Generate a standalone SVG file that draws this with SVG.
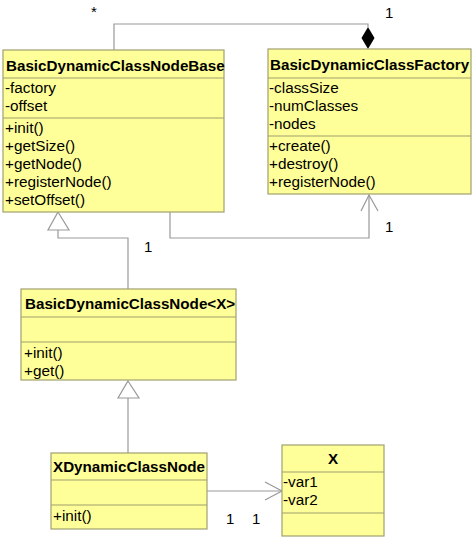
<svg xmlns="http://www.w3.org/2000/svg" width="474" height="539" viewBox="0 0 474 539">
<style>
.box{fill:#ffff99;stroke:#a0a070;stroke-width:1.2}
.div{stroke:#a0a070;stroke-width:1.2}
.t{font-family:"Liberation Sans",Arial,sans-serif;font-size:15.2px;font-weight:bold;fill:#000}
.m{font-family:"Liberation Sans",Arial,sans-serif;font-size:15.3px;fill:#000}
.c{fill:none;stroke:#999;stroke-width:1.2}
.lbl{font-family:"Liberation Sans",Arial,sans-serif;font-size:15px;fill:#000}
</style>
<rect width="474" height="539" fill="#fff"/>
<g id="connectors">
<polyline class="c" points="114,50 114,24 368,24 368,27"/>
<polygon points="368,27 374.5,38 368,49 361.5,38" fill="#000"/>
<text class="lbl" x="91" y="17">*</text>
<text class="lbl" x="385" y="18">1</text>
<polyline class="c" points="170,212 170,238 369,238 369,195"/>
<polyline class="c" points="361,211 369,195 378,211"/>
<text class="lbl" x="385" y="232">1</text>
<polygon class="c" points="58,212 69,230 48,230" fill="#fff"/>
<polyline class="c" points="58,230 58,238 128,238 128,289"/>
<text class="lbl" x="144" y="252">1</text>
<polygon class="c" points="128,381 139,398 118,398" fill="#fff"/>
<line class="c" x1="128" y1="398" x2="128" y2="453"/>
<line class="c" x1="207" y1="491" x2="282" y2="491"/>
<polyline class="c" points="265,482 282,491 265,500"/>
<text class="lbl" x="226" y="524">1</text>
<text class="lbl" x="252" y="524">1</text>
</g>
<g id="BasicDynamicClassNodeBase">
<rect class="box" x="3" y="50" width="221" height="162"/>
<line class="div" x1="3" y1="78" x2="224" y2="78"/>
<line class="div" x1="3" y1="118" x2="224" y2="118"/>
<text class="t" x="6" y="71">BasicDynamicClassNodeBase</text>
<text class="m" x="5" y="93">-factory</text>
<text class="m" x="5" y="111">-offset</text>
<text class="m" x="5" y="133">+init()</text>
<text class="m" x="5" y="151">+getSize()</text>
<text class="m" x="5" y="169">+getNode()</text>
<text class="m" x="5" y="187">+registerNode()</text>
<text class="m" x="5" y="205">+setOffset()</text>
</g>
<g id="BasicDynamicClassFactory">
<rect class="box" x="268" y="49" width="203" height="145"/>
<line class="div" x1="268" y1="78" x2="471" y2="78"/>
<line class="div" x1="268" y1="136" x2="471" y2="136"/>
<text class="t" x="270" y="70">BasicDynamicClassFactory</text>
<text class="m" x="269" y="93">-classSize</text>
<text class="m" x="269" y="111">-numClasses</text>
<text class="m" x="269" y="129">-nodes</text>
<text class="m" x="269" y="151">+create()</text>
<text class="m" x="269" y="169">+destroy()</text>
<text class="m" x="269" y="187">+registerNode()</text>
</g>
<g id="BasicDynamicClassNodeX">
<rect class="box" x="21" y="289" width="215" height="91"/>
<line class="div" x1="21" y1="317" x2="236" y2="317"/>
<line class="div" x1="21" y1="342" x2="236" y2="342"/>
<text class="t" x="25" y="309">BasicDynamicClassNode&lt;X&gt;</text>
<text class="m" x="24" y="358">+init()</text>
<text class="m" x="24" y="376">+get()</text>
</g>
<g id="XDynamicClassNode">
<rect class="box" x="51" y="453" width="156" height="76"/>
<line class="div" x1="51" y1="480" x2="207" y2="480"/>
<line class="div" x1="51" y1="505" x2="207" y2="505"/>
<text class="t" x="53" y="472">XDynamicClassNode</text>
<text class="m" x="53" y="521">+init()</text>
</g>
<g id="X">
<rect class="box" x="282" y="445" width="102" height="91"/>
<line class="div" x1="282" y1="472" x2="384" y2="472"/>
<line class="div" x1="282" y1="513" x2="384" y2="513"/>
<text class="t" x="333" y="464" text-anchor="middle">X</text>
<text class="m" x="283" y="487">-var1</text>
<text class="m" x="283" y="505">-var2</text>
</g>
</svg>
